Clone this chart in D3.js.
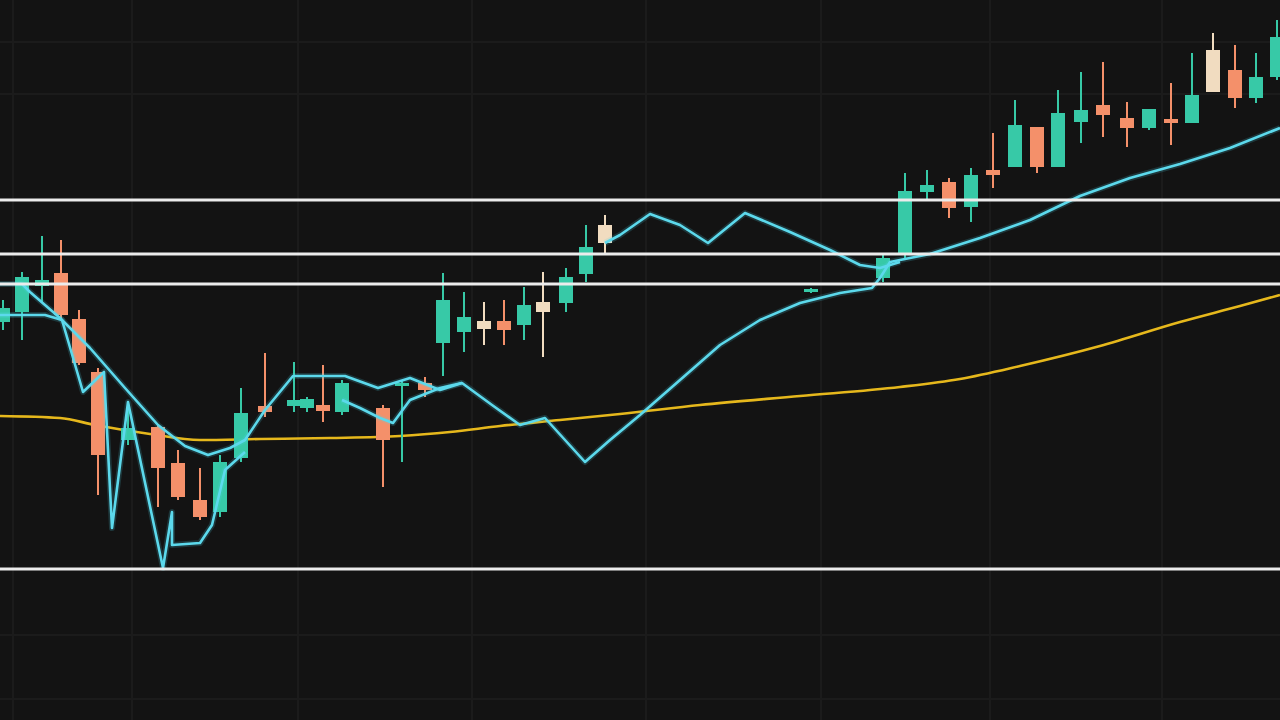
<!DOCTYPE html>
<html>
<head>
<meta charset="utf-8">
<script src="https://cdn.jsdelivr.net/npm/d3@7"></script>
<style>
html,body{margin:0;padding:0;background:#131313;overflow:hidden;}
svg{display:block;}
</style>
</head>
<body>
<svg id="chart" width="1280" height="720"></svg>
<script>
// ---- data (session index, price) ----
const sessions = [0.15,1.1,2.1,3.05,3.95,4.9,6.4,7.9,8.9,10.0,11.0,12.05,13.25,14.7,15.35,16.15,17.1,19.15,20.1,21.25,22.15,23.2,24.2,25.2,26.2,27.15,28.3,29.3,30.25,40.55,44.15,45.25,46.35,47.45,48.55,49.65,50.75,51.85,52.9,54.05,55.15,56.35,57.45,58.55,59.6,60.65,61.75,62.8,63.85];
const open  = [139.8,140.8,143.4,144.7,140.1,134.8,128.0,129.3,125.7,122.0,120.8,126.2,131.4,131.4,131.2,131.5,130.8,131.2,133.4,133.7,137.7,138.8,139.9,139.9,139.5,141.8,141.7,144.6,149.5,142.8,144.2,146.5,152.8,153.8,151.3,155.0,155.3,159.3,155.3,159.8,161.5,160.2,159.2,160.1,159.7,162.8,165.0,162.2,164.3];
const close = [141.2,144.3,144.0,140.5,135.7,126.5,129.2,125.2,122.3,120.3,125.8,130.7,130.8,132.0,132.1,130.9,133.7,128.0,133.7,133.0,142.0,140.3,139.1,139.0,141.5,140.8,144.3,147.3,147.7,143.1,146.2,152.9,153.5,151.2,154.5,154.5,159.5,155.3,160.7,161.0,160.5,159.2,161.1,159.7,162.5,167.0,162.2,164.3,168.3];
const high  = [142.0,144.8,148.4,148.0,141.0,135.2,131.8,129.5,127.0,125.2,126.5,133.2,136.7,135.8,132.3,135.5,134.0,131.5,134.0,134.3,144.7,142.8,141.8,142.0,143.3,144.8,145.2,149.5,150.5,143.2,146.5,154.7,155.0,154.2,155.2,158.7,162.0,159.3,163.0,164.8,165.8,161.8,161.1,163.7,166.7,168.7,167.5,166.7,170.0];
const low   = [139.0,138.0,141.7,140.2,135.5,122.5,127.5,121.3,122.0,120.0,120.3,125.8,130.3,130.8,130.8,129.8,130.5,123.3,125.8,132.3,134.4,136.8,137.5,137.5,138.0,136.3,140.8,143.8,146.7,142.7,143.8,146.2,152.0,150.2,149.8,153.2,155.3,154.7,155.3,157.7,158.3,157.3,159.0,157.5,159.7,162.8,161.2,161.7,164.0];
const paleSessions = [24.2, 27.15, 30.25, 60.65];

const cyanMain = [[0,143.6],[1.1,143.6],[1.5,142.8],[3,140.2],[4.5,137.2],[6.25,133.2],[7.9,129.5],[9.25,127.4],[10.4,126.5],[11.5,127.2],[12.25,128.0],[13.25,131.0],[14.65,134.4],[17.25,134.4],[18.9,133.2],[20.5,134.2],[22,133.0],[23.1,133.7],[24.6,131.5],[26,129.5],[27.25,130.2],[29.25,125.8],[30.5,128.0],[32,130.5],[34,134.0],[36,137.5],[38,140.0],[40,141.7],[42,142.7],[43.6,143.2],[44,144.2],[44.5,145.8],[46.5,146.6],[49,148.2],[51.5,150.0],[54,152.4],[56.5,154.2],[59,155.6],[61.5,157.2],[64,159.2]];
const cyanUpper = [[30.25,147.7],[31,148.5],[32.5,150.6],[34,149.5],[35.4,147.7],[37.25,150.7],[39.5,148.8],[41.5,147.0],[43,145.5],[44,145.2],[45,145.8]];
const cyanZigzag = [[0,140.5],[2.25,140.5],[3.1,140.0],[4.15,132.8],[5.2,134.8],[5.6,119.2],[6.4,131.8],[8.15,115.2],[8.6,120.8],[8.6,117.5],[10,117.7],[10.6,119.5],[11.25,125.0],[12.25,126.8]];
const cyanLower = [[17.1,132.0],[18,131.2],[19,130.2],[19.65,129.7],[20.5,132.0],[22,133.2],[23.1,133.7]];
const yellowLine = [[0,130.4],[3,130.2],[4.75,129.5],[7.5,128.6],[10,128.0],[13,128.1],[16.5,128.2],[20,128.4],[22.5,128.8],[25,129.4],[28,130.0],[31,130.6],[35,131.5],[40,132.4],[45,133.3],[48,134.1],[51,135.4],[55,137.4],[59,139.8],[62,141.4],[64,142.5]];

const levels = [152.0, 146.6, 143.6, 115.1];
const gridSessions = [0.65, 6.6, 14.9, 23.6, 32.3, 41.05, 49.5, 58.1];
const gridPrices = [167.8, 162.6, 108.5, 102.1];

// ---- drawing ----
const W = 1280, H = 720;
const svg = d3.select('#chart');
const x = d3.scaleLinear().domain([0, 64]).range([0, W]);
const y = d3.scaleLinear().domain([100, 172]).range([H, 0]);

svg.append('rect').attr('width', W).attr('height', H).attr('fill', '#131313');

const grid = svg.append('g');
grid.selectAll('line.v').data(gridSessions).join('line')
  .attr('x1', d => x(d)).attr('x2', d => x(d)).attr('y1', 0).attr('y2', H)
  .attr('stroke', '#1b1b1b').attr('stroke-width', 2);
grid.selectAll('line.h').data(gridPrices).join('line')
  .attr('x1', 0).attr('x2', W).attr('y1', d => y(d)).attr('y2', d => y(d))
  .attr('stroke', '#1b1b1b').attr('stroke-width', 2);

const line = d3.line().x(d => x(d[0])).y(d => y(d[1]));
const smooth = d3.line().x(d => x(d[0])).y(d => y(d[1])).curve(d3.curveMonotoneX);

// yellow line
svg.append('path').datum(yellowLine).attr('d', smooth)
  .attr('fill', 'none').attr('stroke', '#e6b81c').attr('stroke-width', 2.6);

// candles
const candles = sessions.map((s, i) => ({s, o: open[i], c: close[i], h: high[i], l: low[i]}));
const colorOf = d => paleSessions.includes(d.s) ? '#f1dcc0' : (d.c >= d.o ? '#37c9a7' : '#f4906a');
const bw = 14;
const cg = svg.append('g');
cg.selectAll('line').data(candles).join('line')
  .attr('x1', d => x(d.s)).attr('x2', d => x(d.s))
  .attr('y1', d => y(d.h)).attr('y2', d => y(d.l))
  .attr('stroke', colorOf).attr('stroke-width', 2);
cg.selectAll('rect').data(candles).join('rect')
  .attr('x', d => x(d.s) - bw / 2).attr('width', bw)
  .attr('y', d => y(Math.max(d.o, d.c)))
  .attr('height', d => Math.max(3, Math.abs(y(d.o) - y(d.c))))
  .attr('fill', colorOf);

// cyan lines with soft glow
const cyan = [cyanMain, cyanUpper, cyanZigzag, cyanLower];
const lg = svg.append('g');
lg.selectAll('path.glow').data(cyan).join('path').attr('class', 'glow')
  .attr('d', line).attr('fill', 'none').attr('stroke', '#4fd8ee')
  .attr('stroke-width', 6).attr('stroke-opacity', 0.18).attr('stroke-linejoin', 'round');
lg.selectAll('path.core').data(cyan).join('path').attr('class', 'core')
  .attr('d', line).attr('fill', 'none').attr('stroke', '#5cd9ec')
  .attr('stroke-width', 2.6).attr('stroke-linejoin', 'round');

// white horizontal levels
svg.append('g').selectAll('line').data(levels).join('line')
  .attr('x1', 0).attr('x2', W).attr('y1', d => y(d)).attr('y2', d => y(d))
  .attr('stroke', '#ececec').attr('stroke-width', 3);
</script>
</body>
</html>
